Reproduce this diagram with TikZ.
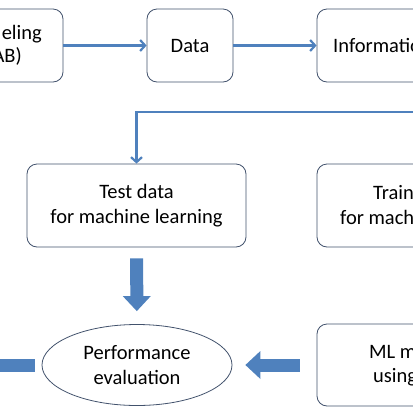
\documentclass[tikz,border=0pt]{standalone}
\usepackage{fontspec}
\setmainfont{Carlito}
\usepackage{xcolor}
\usepackage{tikz}
\usetikzlibrary{arrows.meta, shapes.geometric}

\definecolor{flowblue}{RGB}{79,129,189}
\definecolor{boxline}{RGB}{66,82,108}
\newcommand{\txtfont}{\fontsize{20.5bp}{25bp}\selectfont}

\begin{document}
\begin{tikzpicture}[
    x=1bp, y=-1bp,
    box/.style={rectangle, rounded corners=10bp, draw=boxline, line width=0.8bp, minimum width=219bp, minimum height=83bp, align=center, font=\txtfont},
    smallbox/.style={box, minimum width=86bp, minimum height=73bp},
    oval/.style={ellipse, draw=boxline, line width=0.8bp, minimum width=190bp, minimum height=81bp, inner sep=0pt, align=center, font=\txtfont},
    lbl/.style={inner sep=0pt, font=\txtfont},
    arrow/.style={-{Straight Barb[length=5bp, width=11bp]}, line width=2.2bp, flowblue},
    blockarrow/.style={-{Triangle[length=15bp, width=28bp, line width=0bp]}, line width=13bp, flowblue}
]
\useasboundingbox (0,0) rectangle (413,413);
\clip (0,0) rectangle (413,413);

% top row
\node[box, minimum height=73bp] (model) at (-46.5,45.5) {};
\node[lbl, anchor=base east] (modeltxt) at (42,39) {eling};
\node[lbl, anchor=base east] (modeltool) at (22,62) {AB)};

\node[smallbox] (data) at (190,45.5) {Data};

\node[box, minimum height=73bp] (info) at (426.5,45.5) {};
\node[lbl, anchor=base west] (infotxt) at (333,52) {Informatio};

% middle row
\node[box] (test) at (136.5,205.5) {Test data\\for machine learning};

\node[box] (train) at (426.5,205.5) {};
\node[lbl, anchor=base west] (traintxt) at (373,199) {Train};
\node[lbl, anchor=base west] (trainfor) at (340,224) {for mach};

% bottom row
\node[oval] (perf) at (137,365) {Performance\\evaluation};

\node[box, minimum height=82bp] (ml) at (426.5,365) {};
\node[lbl, anchor=base west] (mltxt) at (369,358.5) {ML m};
\node[lbl, anchor=base west] (mlusing) at (373,382) {using};

\coordinate (feed) at (440,112);
\coordinate (out) at (-60,365);

% thin arrows
\draw[arrow] (model) -- (data);
\draw[arrow] (data) -- (info);
\draw[arrow] (feed) -| (test);

% block arrows
\draw[blockarrow, shorten <=11bp, shorten >=13bp] (test) -- (perf);
\draw[blockarrow, shorten <=17bp, shorten >=13bp] (ml) -- (perf);
\draw[blockarrow, shorten <=7bp] (perf) -- (out);

\end{tikzpicture}
\end{document}
